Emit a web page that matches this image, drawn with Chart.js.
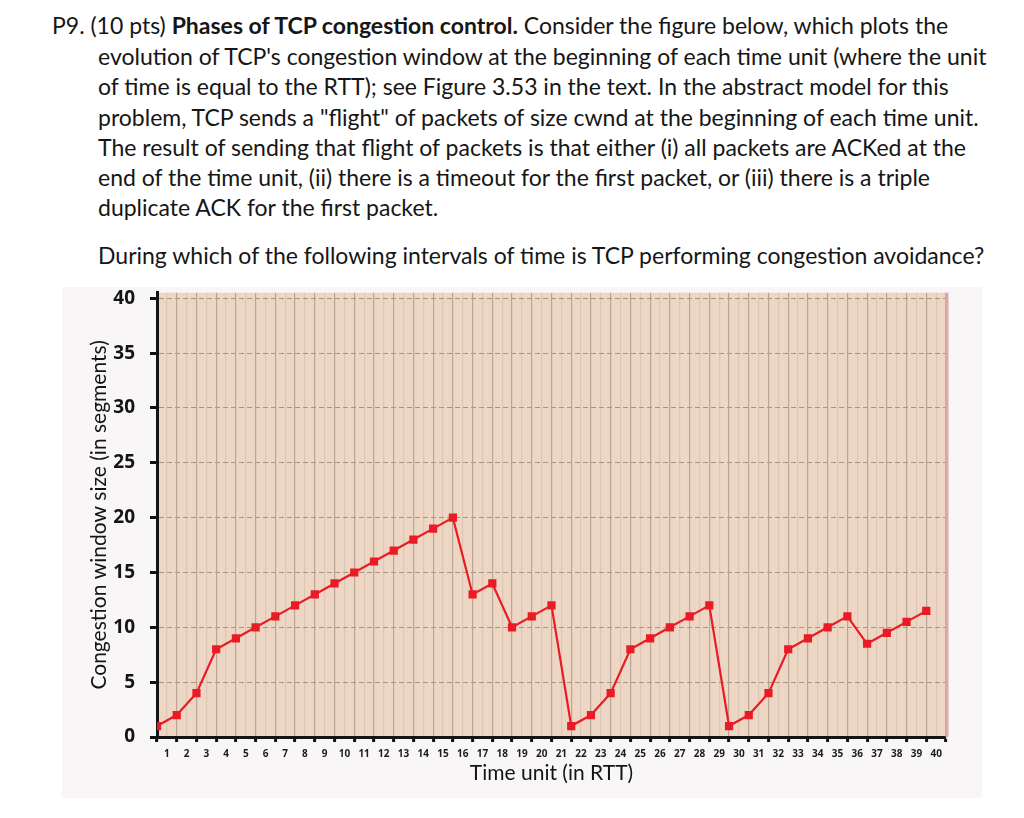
<!DOCTYPE html>
<html>
<head>
<meta charset="utf-8">
<script src="https://cdn.jsdelivr.net/npm/chart.js@4/dist/chart.umd.min.js"></script>
<style>
    html, body {
        margin: 0;
        padding: 0;
        background: #ffffff;
    }

    body {
        width: 1024px;
        height: 818px;
        position: relative;
        overflow: hidden;
        font-family: Lato, "Open Sans", sans-serif;
        color: #161616;
    }

    .line {
        position: absolute;
        height: 30px;
        line-height: 30px;
        font-size: 23px;
        white-space: nowrap;
    }

    .panel {
        position: absolute;
        left: 62px;
        top: 287px;
        width: 920px;
        height: 511px;
        background: #f8f6f7;
    }
</style>
</head>
<body>

<div class="line" style="left:52px; top:10px;">P9. (10 pts) <b>Phases of TCP congestion control.</b> Consider the figure below, which plots the</div>
<div class="line" style="left:98px; top:41px;">evolution of TCP's congestion window at the beginning of each time unit (where the unit</div>
<div class="line" style="left:98px; top:71px;">of time is equal to the RTT); see Figure 3.53 in the text. In the abstract model for this</div>
<div class="line" style="left:98px; top:102px;">problem, TCP sends a "flight" of packets of size cwnd at the beginning of each time unit.</div>
<div class="line" style="left:98px; top:132px;">The result of sending that flight of packets is that either (i) all packets are ACKed at the</div>
<div class="line" style="left:98px; top:162px;">end of the time unit, (ii) there is a timeout for the first packet, or (iii) there is a triple</div>
<div class="line" style="left:98px; top:192px;">duplicate ACK for the first packet.</div>
<div class="line" style="left:98px; top:240px;">During which of the following intervals of time is TCP performing congestion avoidance?</div>

<div class="panel">
    <canvas id="chart" width="920" height="511"></canvas>
</div>

<script>
    "use strict";

    // time units shown on the x axis (in RTT)
    const timeUnits = [
        1, 2, 3, 4, 5, 6, 7, 8, 9, 10,
        11, 12, 13, 14, 15, 16, 17, 18, 19, 20,
        21, 22, 23, 24, 25, 26, 27, 28, 29, 30,
        31, 32, 33, 34, 35, 36, 37, 38, 39, 40
    ];

    // congestion window at the beginning of each time unit
    const cwnd = [
        1, 2, 4, 8, 9, 10, 11, 12, 13, 14,
        15, 16, 17, 18, 19, 20, 13, 14, 10, 11,
        12, 1, 2, 4, 8, 9, 10, 11, 12, 1,
        2, 4, 8, 9, 10, 11, 8.5, 9.5, 10.5, 11.5
    ];

    const yTicks = [0, 5, 10, 15, 20, 25, 30, 35, 40];

    const points = timeUnits.map((t, i) => ({x: t - 1, y: cwnd[i]}));

    // x ticks: tick marks at unit borders, labels in the middle of each unit
    const xTickValues = [];
    for (let v = 0; v <= timeUnits.length; v += 0.5) {
        xTickValues.push(v);
    }

    const plotBackground = {
        id: 'plotBackground',
        beforeDraw: (chart) => {
            const {ctx, chartArea} = chart;
            ctx.save();
            ctx.fillStyle = '#eed6c4';
            ctx.fillRect(chartArea.left, chartArea.top, chartArea.right - chartArea.left, chartArea.bottom - chartArea.top);
            ctx.restore();
        },
        afterDraw: (chart) => {
            const {ctx, chartArea} = chart;
            ctx.save();
            ctx.strokeStyle = '#e2a7ae';
            ctx.lineWidth = 3;
            ctx.beginPath();
            ctx.moveTo(chartArea.right + 1, chartArea.top);
            ctx.lineTo(chartArea.right + 1, chartArea.bottom);
            ctx.stroke();
            ctx.restore();
        }
    };

    new Chart(document.getElementById('chart'), {
        type: 'line',
        data: {
            datasets: [{
                data: points,
                borderColor: '#ea1b24',
                backgroundColor: '#ea1b24',
                borderWidth: 2.2,
                pointStyle: 'rect',
                pointRadius: 5.8,
                pointBorderWidth: 0,
                tension: 0
            }]
        },
        options: {
            responsive: false,
            animation: false,
            layout: {
                padding: {top: 3, right: 36, bottom: 0, left: 0}
            },
            plugins: {
                legend: {display: false},
                tooltip: {enabled: false}
            },
            scales: {
                x: {
                    type: 'linear',
                    min: 0,
                    max: timeUnits.length,
                    afterBuildTicks: (scale) => {
                        scale.ticks = xTickValues.map(v => ({value: v}));
                    },
                    afterFit: (scale) => {
                        scale.height = 61;
                        scale.paddingLeft = 0;
                        scale.paddingRight = 0;
                    },
                    ticks: {
                        autoSkip: false,
                        maxRotation: 0,
                        padding: 6,
                        color: '#1c1c1c',
                        font: {family: 'Open Sans', size: 10, weight: 'bold'},
                        callback: (value) => Number.isInteger(value) ? '' : String(value + 0.5)
                    },
                    grid: {
                        color: (ctx) => Number.isInteger(ctx.tick && ctx.tick.value) ? '#b9a697' : '#dcc6b5',
                        lineWidth: 1.2,
                        tickColor: (ctx) => Number.isInteger(ctx.tick && ctx.tick.value) ? '#111111' : 'rgba(0,0,0,0)',
                        tickLength: 5,
                        tickWidth: 3
                    },
                    border: {
                        color: '#141414',
                        width: 3
                    },
                    title: {
                        display: true,
                        text: 'Time unit (in RTT)',
                        color: '#141414',
                        font: {family: 'Lato', size: 21},
                        padding: {top: 0, bottom: 12}
                    }
                },
                y: {
                    min: 0,
                    max: 40.5,
                    afterBuildTicks: (scale) => {
                        scale.ticks = yTicks.map(v => ({value: v}));
                    },
                    afterFit: (scale) => {
                        scale.width = 95;
                        scale.paddingTop = 0;
                        scale.paddingBottom = 0;
                    },
                    ticks: {
                        padding: 15,
                        color: '#141414',
                        font: {family: 'Open Sans', size: 19, weight: 'bold'}
                    },
                    grid: {
                        color: '#a69585',
                        lineWidth: 1,
                        tickColor: '#111111',
                        tickLength: 7,
                        tickWidth: 3
                    },
                    border: {
                        color: '#141414',
                        width: 3,
                        dash: [5, 3]
                    },
                    title: {
                        display: true,
                        text: 'Congestion window size (in segments)',
                        color: '#141414',
                        font: {family: 'Lato', size: 21},
                        padding: {top: 25, bottom: 0}
                    }
                }
            }
        },
        plugins: [plotBackground]
    });
</script>
</body>
</html>
